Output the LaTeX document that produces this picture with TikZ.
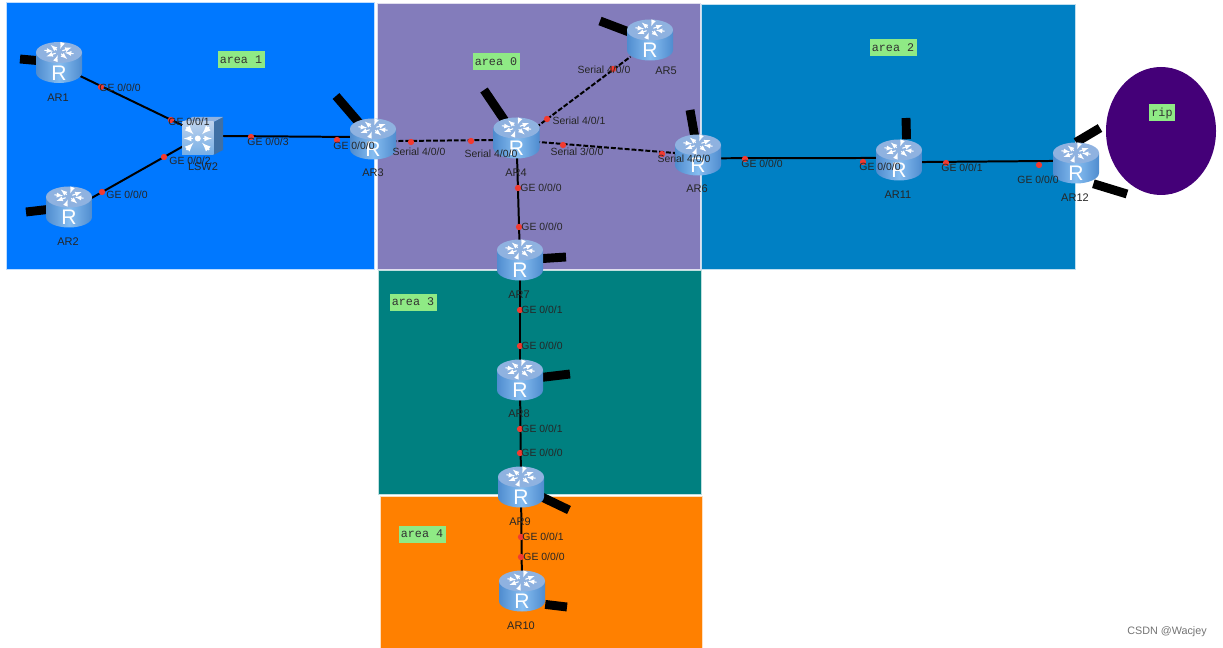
\documentclass[tikz,border=0pt]{standalone}
\usepackage{fontspec}
\setmainfont{Liberation Sans}
\setmonofont{Liberation Mono}
\usetikzlibrary{shapes.geometric}

\definecolor{routertop}{HTML}{8FB2E0}
\definecolor{routerside}{HTML}{4F8CCF}
\definecolor{routermid}{HTML}{86BDF0}
\definecolor{labelgreen}{HTML}{8FEA85}
\definecolor{portred}{HTML}{F23A30}
\definecolor{areaone}{HTML}{0078FF}
\definecolor{areazero}{HTML}{837CBB}
\definecolor{areatwo}{HTML}{0080C4}
\definecolor{areathree}{HTML}{008080}
\definecolor{areafour}{HTML}{FF8000}
\definecolor{ripzone}{HTML}{440078}

\pgfdeclarelayer{areas}
\pgfdeclarelayer{lines}
\pgfdeclarelayer{icons}
\pgfsetlayers{areas,lines,icons,main}

% the router can, drawn around the node centre
\newcommand{\routericon}{%
    \shade[left color=routerside, right color=routerside, middle color=routermid]
        (-23,-10) -- (-23,10) arc[start angle=180, end angle=0, x radius=23, y radius=10.5] -- (23,-10) -- cycle;
    \fill[routertop] (0,-10) ellipse[x radius=23, y radius=10.5];
    \foreach \a in {45,135,225,315}
    \draw[-latex, white, line width=.9pt, shift={(0,-10.5)}, yscale=0.55] (\a+12:4) -- (\a+12:15);
    \foreach \a in {0,90,180,270}
    \draw[-latex, white, line width=.9pt, shift={(0,-10.5)}, yscale=0.55] (\a+12:15) -- (\a+12:6);
}
% the switch box
\newcommand{\switchicon}{%
    \fill[routerside!80!black] (11,-14) -- (20.5,-19) -- (20.5,14) -- (11,19) -- cycle;
    \fill[routertop] (-20.5,-14) -- (-10,-19) -- (20.5,-19) -- (11,-14) -- cycle;
    \shade[top color=routertop!60!white, bottom color=routermid!70!routerside] (-20.5,-14) rectangle (11,19);
    \fill[white] (-4.7,2.5) circle[radius=3];
    \foreach \a in {45,135,225,315}
    \draw[-latex, white, line width=1.6pt, shift={(-4.7,2.5)}] (\a:16) -- (\a:6);
    \foreach \a in {0,180}
    \draw[-latex, white, line width=1.2pt, shift={(-4.7,2.5)}] (\a:5) -- (\a:14);
}

\tikzset{
    router/.style={minimum width=.03cm*46, minimum height=.03cm*41, inner sep=0pt, text=white,
        font=\fontsize{18}{18}\selectfont, text height=30.6pt, text depth=0pt},
    switch/.style={minimum width=.03cm*41, minimum height=.03cm*38, inner sep=0pt},
    devname/.style={font=\fontsize{9.4}{10}\selectfont, text=black!85, inner sep=0pt},
    port/.style={font=\fontsize{8.9}{9}\selectfont, text=black!85, inner sep=0pt},
    dot/.style={circle, fill=portred, inner sep=0pt, minimum size=.19cm},
    arealabel/.style={fill=labelgreen, font=\ttfamily\fontsize{10}{10}\selectfont, text=black!80,
        minimum width=.03cm*47, minimum height=.03cm*17, inner sep=0pt},
    link/.style={line width=1.7pt, black, shorten <=-4pt, shorten >=-4pt},
    seriallink/.style={link, dash pattern=on 4.2pt off 1.7pt},
    stub/.style={line width=7.6pt, black},
    zone/.style={draw=white!75!#1, line width=.8pt, fill=#1}
}

\begin{document}
\begin{tikzpicture}[x=0.03cm, y=-0.03cm]
    \useasboundingbox (0,0) rectangle (1223,648);

    % areas
    \begin{pgfonlayer}{areas}
        \filldraw[zone=areaone] (6,2) rectangle (374,269);
        \filldraw[zone=areazero] (377,3) rectangle (700,269);
        \filldraw[zone=areatwo] (701,4) rectangle (1075,269);
        \filldraw[zone=areathree] (378,270) rectangle (701,494);
        \filldraw[zone=areafour] (380,496) rectangle (702,648);
        \fill[ripzone] (1161,131) ellipse[x radius=55, y radius=64];
    \end{pgfonlayer}

    \foreach \n/\x/\y/\t in {a1/241/60/{area 1}, a0/496/62/{area 0}, a2/893/48/{area 2},
        a3/413/302/{area 3}, a4/422/534/{area 4}}
    \node[arealabel] (\n) at (\x,\y) {\t};
    \node[arealabel, minimum width=.03cm*26] (rip) at (1162,113) {rip};

    % routers and their names
    \foreach \n/\x/\y/\lx/\ly in {AR1/59/62.5/58/98, AR2/69/207/68/242, AR3/373/139/373/173,
        AR4/516.5/138/516/173, AR5/650/40/666/71, AR6/698/155/697/189, AR7/520/260/519/295,
        AR8/520/380/519/414, AR9/521/487/520/522, AR10/522/591/521/626, AR11/899/160/898/195,
        AR12/1076/163/1075/198}
    {
        \node[router] (\n) at (\x,\y) {R};
        \node[devname] (name\n) at (\lx,\ly) {\n};
        \begin{pgfonlayer}{icons}
            \begin{scope}[shift={(\x,\y)}]
                \routericon
            \end{scope}
        \end{pgfonlayer}
    }
    \node[switch] (LSW2) at (202.5,136) {};
    \node[devname] (nameLSW2) at (203,167) {LSW2};
    \begin{pgfonlayer}{icons}
        \begin{scope}[shift={(202.5,136)}]
            \switchicon
        \end{scope}
    \end{pgfonlayer}

    \begin{pgfonlayer}{lines}
        % stubs
        \foreach \s/\a/\x/\y in {a/AR1.center/20/59, b/AR2.center/26/212, c/AR3.center/336/96,
            d/AR4.center/484/90, e/AR5.center/600/21, f/AR6.center/690/110, g/AR7.center/566/257,
            h/AR8.center/570/374, i/AR9.center/569/510, j/AR10.-30/567/607,
            k/AR11.70/906/118, l/AR12.north/1100/128, m/AR12.-50/1127/194}
        {
            \coordinate (stub\s) at (\x,\y);
            \draw[stub] (\a) -- (stub\s);
        }
        % links
        \foreach \a/\b in {AR1.-32/LSW2.152, AR2.22/LSW2.208, LSW2.east/AR3.175, AR4.center/AR7.center,
            AR7.center/AR8.center, AR8.center/AR9.center, AR9.center/AR10.center, AR6.-8/AR11.175, AR11.-5/AR12.175}
        \draw[link] (\a) -- (\b);
        \foreach \a/\b in {AR3.-5/AR4.185, AR4.30/AR5.220, AR4.-10/AR6.175}
        \draw[seriallink] (\a) -- (\b);
    \end{pgfonlayer}

    % ports
    \foreach \n/\x/\y/\lx/\ly/\t in {
        1/101/87/120/88/{GE 0/0/0}, 2/171/120/189/122/{GE 0/0/1}, 3/164/157/190/161/{GE 0/0/2},
        4/102/192/127/195/{GE 0/0/0}, 5/251/137/268/142/{GE 0/0/3}, 6/337/140/354/146/{GE 0/0/0},
        7/411/142/419/152/{Serial 4/0/0}, 8/471/141/491/154/{Serial 4/0/0}, 9/563/145/577/152/{Serial 3/0/0},
        10/662/154/684/159/{Serial 4/0/0}, 11/547/119/579/121/{Serial 4/0/1}, 12/613/69/604/70/{Serial 4/0/0},
        13/518/188/541/188/{GE 0/0/0}, 14/519/227/542/227/{GE 0/0/0}, 15/520/310/542/310/{GE 0/0/1},
        16/520/346/542/346/{GE 0/0/0}, 17/520/429/542/429/{GE 0/0/1}, 18/520/453/542/453/{GE 0/0/0},
        19/521/537/543/537/{GE 0/0/1}, 20/521/557/544/557/{GE 0/0/0}, 21/745/159/762/164/{GE 0/0/0},
        22/863/162/880/167/{GE 0/0/0}, 23/946/163/962/168/{GE 0/0/1}, 24/1039/165/1038/180/{GE 0/0/0}}
    {
        \node[dot] (dot\n) at (\x,\y) {};
        \node[port] (port\n) at (\lx,\ly) {\t};
    }

    \node[font=\fontsize{9.2}{10}\selectfont, text=black!55, inner sep=0pt] (mark) at (1167,632) {CSDN @Wacjey};
\end{tikzpicture}
\end{document}
